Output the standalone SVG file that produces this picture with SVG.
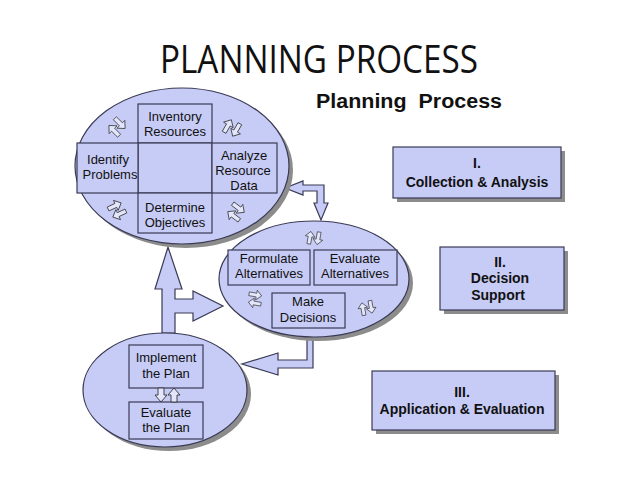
<svg xmlns="http://www.w3.org/2000/svg" xmlns:xlink="http://www.w3.org/1999/xlink" width="638" height="478" viewBox="0 0 638 478">
<style>
.fill{fill:#c7ccf6;stroke:#3a3a55;stroke-width:1.2}
.sh{fill:#8c8c8c}
.box{fill:#c7ccf6;stroke:#3a3a55;stroke-width:1.2}
.lbl{font-family:"Liberation Sans",Arial,sans-serif;font-size:13px;fill:#111;text-anchor:middle}
.rl{font-family:"Liberation Sans",Arial,sans-serif;font-size:14px;font-weight:bold;fill:#111;text-anchor:middle}
.sa{fill:#e4e6fb;stroke:#333;stroke-width:0.9}
.blk{fill:#c7ccf6;stroke:#3a3a55;stroke-width:1.2;stroke-linejoin:miter}
</style>
<defs>
<g id="pair">
<path class="sa" d="M-9,-8 L1,-8 L1,-12 L8,-5.5 L1,1 L1,-3 L-9,-3 Z"/>
<path class="sa" d="M9,8 L-1,8 L-1,12 L-8,5.5 L-1,-1 L-1,3 L9,3 Z"/>
</g>
</defs>
<rect width="638" height="478" fill="#ffffff"/>
<text x="319" y="73" font-family="Open Sans,Noto Sans,sans-serif" font-size="38" fill="#111" text-anchor="middle" textLength="318" lengthAdjust="spacingAndGlyphs">PLANNING PROCESS</text>
<text x="409" y="108" font-family="Liberation Sans,Arial,sans-serif" font-size="20" font-weight="bold" fill="#111" text-anchor="middle" textLength="186" lengthAdjust="spacingAndGlyphs" xml:space="preserve">Planning  Process</text>

<g id="connectors">
<polygon class="blk" points="162,333 162,289 155,289 168,247 182,289 175,289 175,299 193,299 193,291 223,306 193,321 193,313 175,313 175,333"/>
<polygon class="blk" points="285,188 303,181 303,185 324,185 324,203 328,203 321,220 314,203 317,203 317,191 303,191 303,195"/>
<polygon class="blk" points="307,337 313,337 313,368 278,368 278,375 242,364 278,353 278,360 307,360"/>
</g>

<g id="top-ellipse">
<ellipse class="sh" cx="186" cy="170" rx="107" ry="78"/>
<ellipse class="fill" cx="182" cy="166" rx="107" ry="78"/>
</g>
<g id="middle-ellipse">
<ellipse class="sh" cx="318" cy="283" rx="95" ry="58"/>
<ellipse class="fill" cx="314" cy="279" rx="95" ry="58"/>
</g>
<g id="bottom-ellipse">
<ellipse class="sh" cx="169" cy="394" rx="82" ry="57"/>
<ellipse class="fill" cx="165" cy="390" rx="82" ry="57"/>
</g>

<g id="inventory-resources">
<rect class="box" x="138" y="104" width="74" height="39"/>
<text class="lbl" x="175" y="121">Inventory</text>
<text class="lbl" x="175" y="136">Resources</text>
</g>
<g id="center-cell">
<rect class="box" x="138" y="143" width="74" height="50"/>
</g>
<g id="identify-problems">
<rect class="box" x="77" y="143" width="61" height="50"/>
<text class="lbl" x="108" y="164">Identify</text>
<text class="lbl" x="110" y="179">Problems</text>
</g>
<g id="analyze-resource-data">
<rect class="box" x="212" y="143" width="65" height="50"/>
<text class="lbl" x="244" y="160">Analyze</text>
<text class="lbl" x="243" y="175">Resource</text>
<text class="lbl" x="244" y="190">Data</text>
</g>
<g id="determine-objectives">
<rect class="box" x="138" y="193" width="74" height="40"/>
<text class="lbl" x="175" y="212">Determine</text>
<text class="lbl" x="175" y="227">Objectives</text>
</g>

<g id="top-cycle-arrows">
<use xlink:href="#pair" transform="translate(117,127) rotate(45) scale(0.85)"/>
<use xlink:href="#pair" transform="translate(232,128) rotate(120) scale(0.85)"/>
<use xlink:href="#pair" transform="translate(117,210) rotate(-25) scale(0.85)"/>
<use xlink:href="#pair" transform="translate(236,212) rotate(37) scale(0.85)"/>
</g>

<g id="formulate-alternatives">
<rect class="box" x="228" y="250" width="82" height="35"/>
<text class="lbl" x="269" y="263">Formulate</text>
<text class="lbl" x="269" y="278">Alternatives</text>
</g>
<g id="evaluate-alternatives">
<rect class="box" x="314" y="250" width="83" height="35"/>
<text class="lbl" x="355" y="263">Evaluate</text>
<text class="lbl" x="355" y="278">Alternatives</text>
</g>
<g id="make-decisions">
<rect class="box" x="272" y="293" width="73" height="35"/>
<text class="lbl" x="308" y="306">Make</text>
<text class="lbl" x="308" y="322">Decisions</text>
</g>
<g id="middle-cycle-arrows">
<use xlink:href="#pair" transform="translate(314,238) rotate(-80) scale(0.75)"/>
<use xlink:href="#pair" transform="translate(255,299) rotate(10) scale(0.75)"/>
<use xlink:href="#pair" transform="translate(367,308) rotate(80) scale(0.75)"/>
</g>

<g id="implement-the-plan">
<rect class="box" x="129" y="345" width="74" height="43"/>
<text class="lbl" x="166" y="362">Implement</text>
<text class="lbl" x="166" y="378">the Plan</text>
</g>
<g id="evaluate-the-plan">
<rect class="box" x="129" y="402" width="74" height="37"/>
<text class="lbl" x="166" y="417">Evaluate</text>
<text class="lbl" x="166" y="432">the Plan</text>
</g>
<g id="plan-cycle-arrows">
<polygon class="sa" points="158,388 164,388 164,395 167,395 161,402 155,395 158,395"/>
<polygon class="sa" points="171,402 177,402 177,395 180,395 174,388 168,395 171,395"/>
</g>

<g id="phase-1">
<rect class="sh" x="397" y="151" width="168" height="51"/>
<rect class="box" x="393" y="147" width="168" height="51"/>
<text class="rl" x="477" y="168">I.</text>
<text class="rl" x="477" y="187">Collection &amp; Analysis</text>
</g>
<g id="phase-2">
<rect class="sh" x="444" y="251" width="124" height="63"/>
<rect class="box" x="440" y="247" width="124" height="63"/>
<text class="rl" x="500" y="267">II.</text>
<text class="rl" x="500" y="283">Decision</text>
<text class="rl" x="498" y="300">Support</text>
</g>
<g id="phase-3">
<rect class="sh" x="376" y="375" width="183" height="59"/>
<rect class="box" x="372" y="371" width="183" height="59"/>
<text class="rl" x="462" y="397">III.</text>
<text class="rl" x="462" y="414">Application &amp; Evaluation</text>
</g>
</svg>
